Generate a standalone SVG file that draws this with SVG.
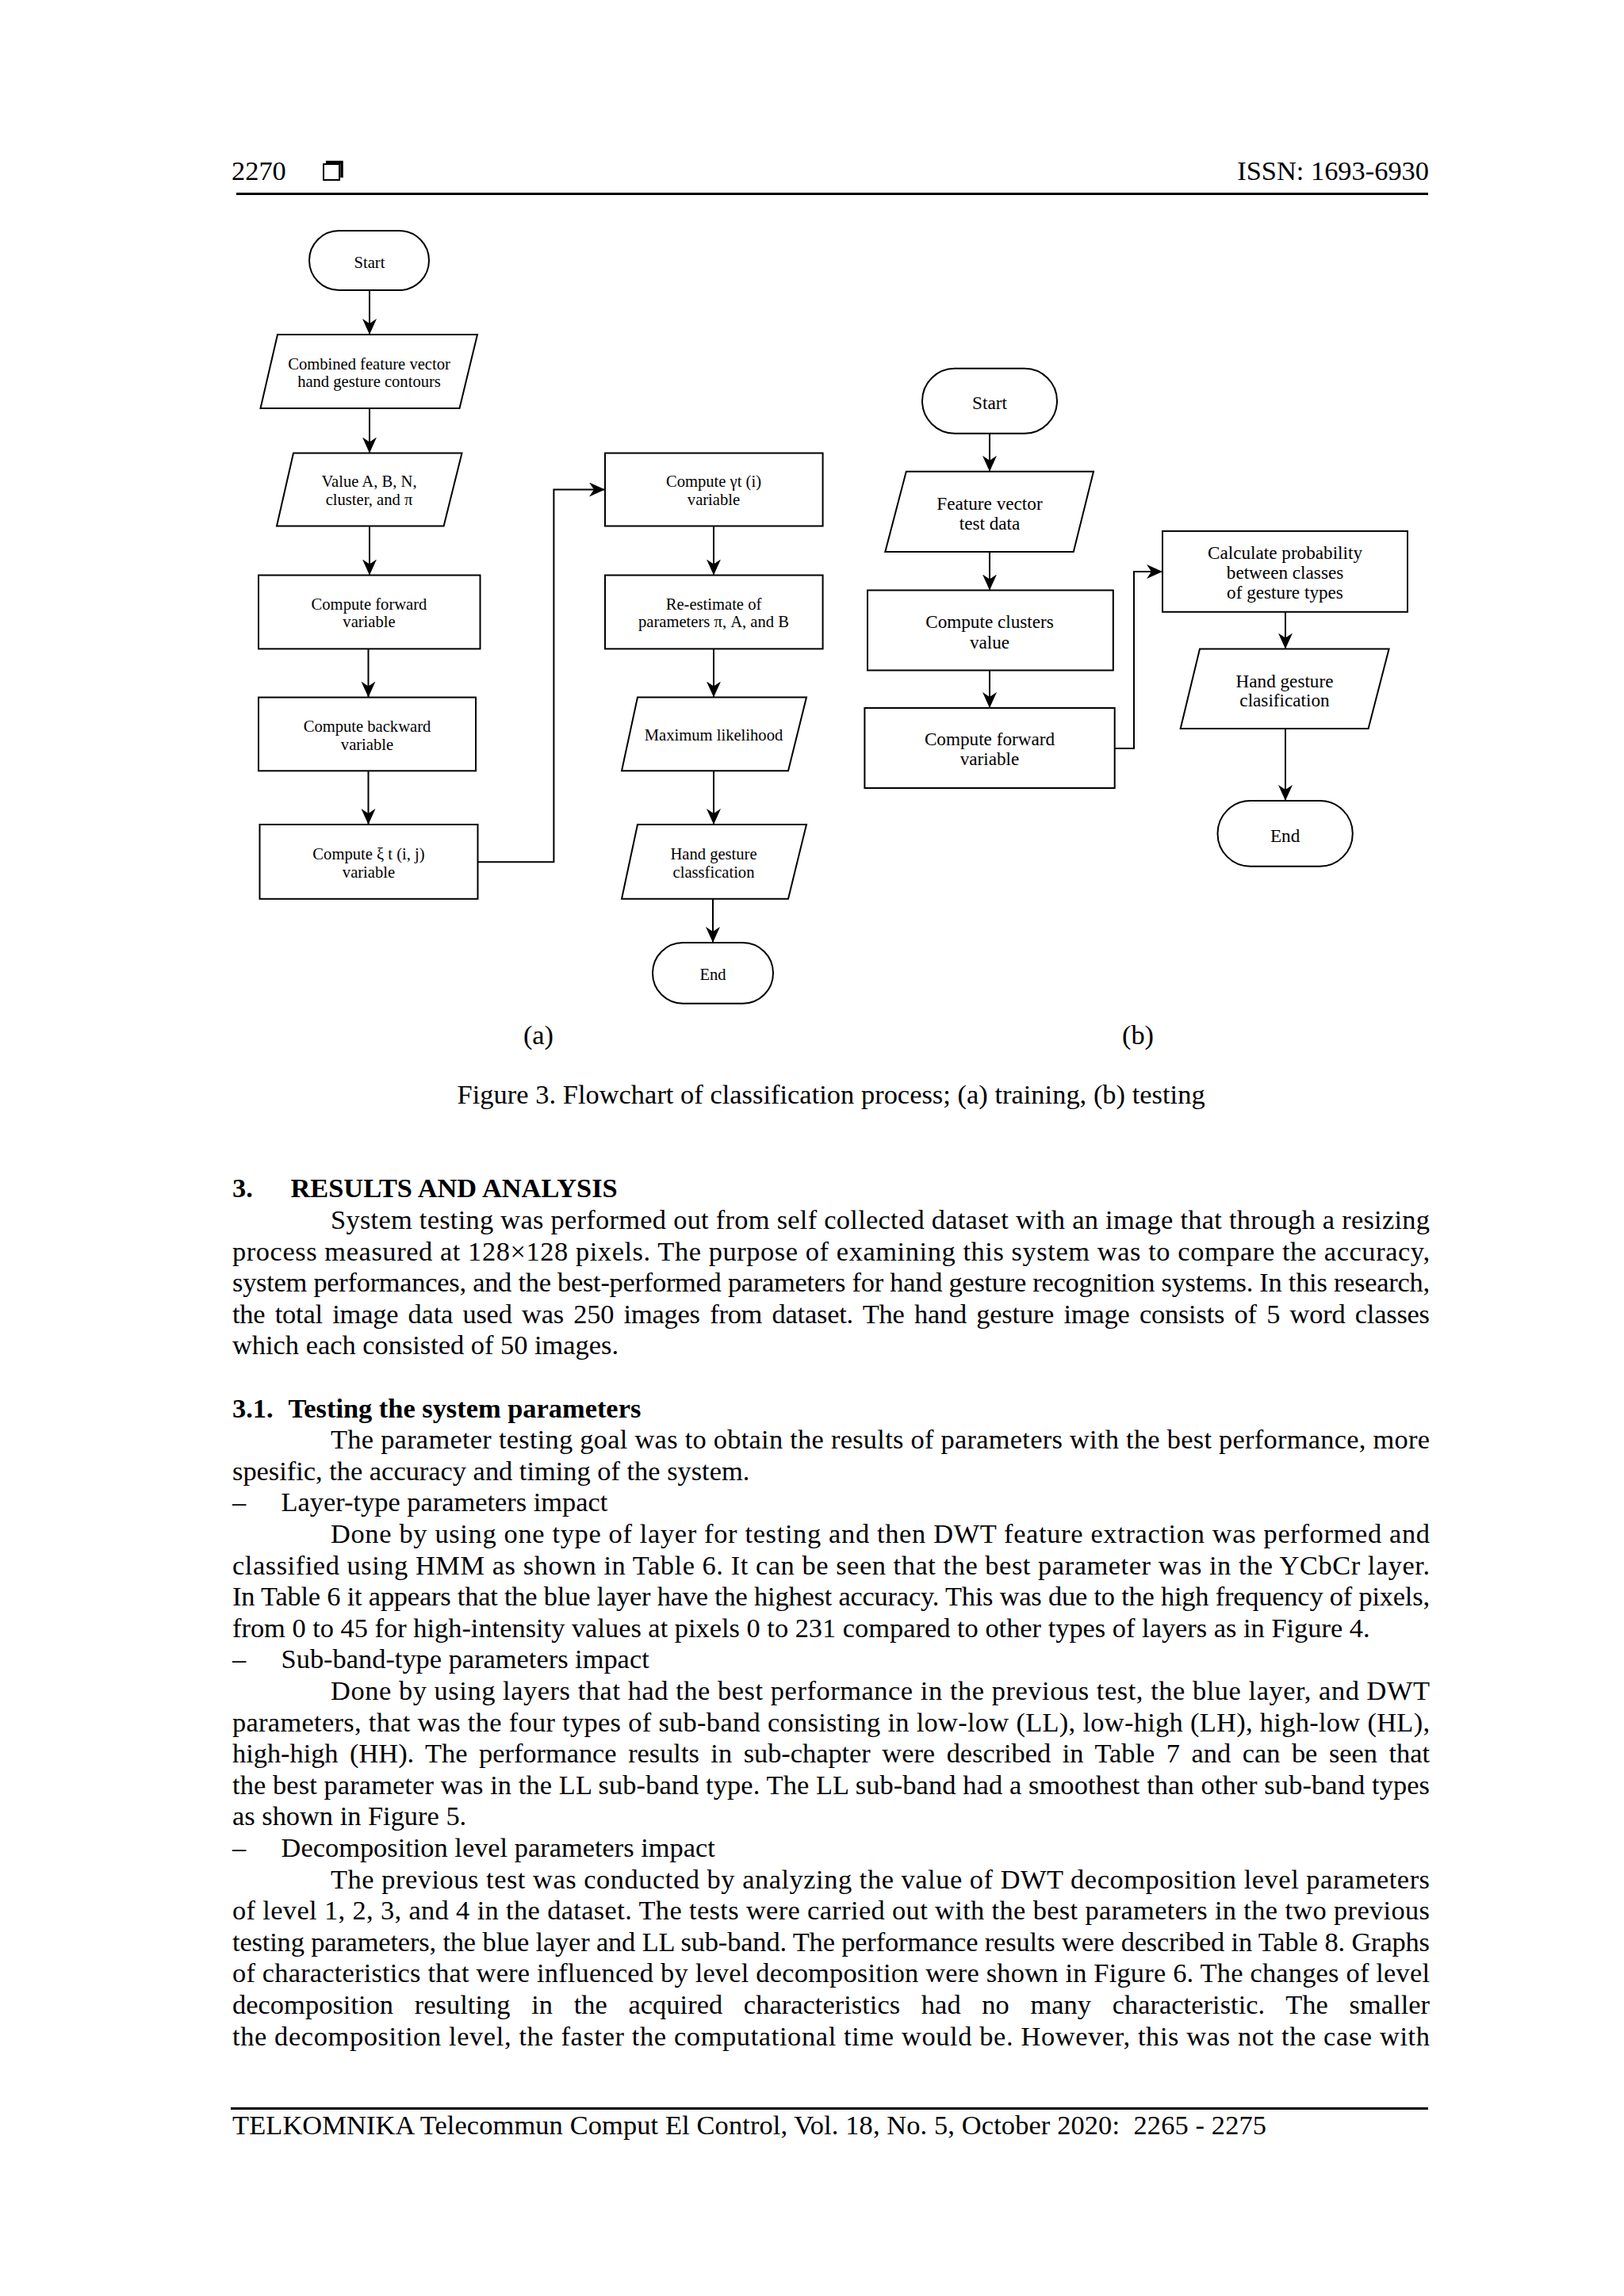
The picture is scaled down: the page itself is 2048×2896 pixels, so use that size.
<svg xmlns="http://www.w3.org/2000/svg" width="2048" height="2896" viewBox="0 0 2048 2896">
<style>
.t{font-family:"Liberation Serif","Times New Roman",serif;fill:#000}
.fa{font-size:20.6px;text-anchor:middle}
.fb{font-size:23.2px;text-anchor:middle}
.p{font-size:34.4px}
.b{font-weight:bold}
.m{text-anchor:middle}
.shape{fill:#fff;stroke:#000;stroke-width:2}
.conn{fill:none;stroke:#000;stroke-width:2;marker-end:url(#arr)}
.rule{stroke:#000;stroke-width:3}
</style>
<defs>
<marker id="arr" markerUnits="userSpaceOnUse" markerWidth="22" markerHeight="20" refX="20" refY="9" orient="auto">
<path d="M0,0 L20,9 L0,18 L6,9 Z" fill="#000"/>
</marker>
</defs>
<rect width="2048" height="2896" fill="#fff"/>

<g id="header">
<text class="t p" x="292" y="227">2270</text>
<rect x="408" y="207" width="20" height="20" fill="#fff" stroke="#000" stroke-width="2"/>
<path d="M411,204.5 L431,204.5 L431,224" fill="none" stroke="#000" stroke-width="3.5"/>
<text class="t p" x="1802" y="227" text-anchor="end">ISSN: 1693-6930</text>
<line class="rule" x1="298" y1="244.5" x2="1801" y2="244.5"/>
</g>

<g id="connectors">
<path class="conn" d="M466,366 L466,422"/>
<path class="conn" d="M466,515 L466,571.5"/>
<path class="conn" d="M466,663.5 L466,725.5"/>
<path class="conn" d="M464.5,818.4 L464.5,879.6"/>
<path class="conn" d="M464.5,972.3 L464.5,1040"/>
<path class="conn" d="M602.5,1087.3 L698.4,1087.3 L698.4,617.5 L763,617.5"/>
<path class="conn" d="M900,663.5 L900,725.5"/>
<path class="conn" d="M900,818.4 L900,879.6"/>
<path class="conn" d="M900,972.3 L900,1040"/>
<path class="conn" d="M899,1133.8 L899,1189"/>
<path class="conn" d="M1248,546.7 L1248,594.8"/>
<path class="conn" d="M1248,695.9 L1248,744.5"/>
<path class="conn" d="M1248,845.5 L1248,893"/>
<path class="conn" d="M1405.7,944 L1430,944 L1430,721 L1466,721"/>
<path class="conn" d="M1621,771.8 L1621,818.6"/>
<path class="conn" d="M1621,919 L1621,1010"/>
</g>

<g id="a-start">
<rect class="shape" x="390" y="291" width="151" height="75" rx="37.5"/>
<text class="t fa" x="466" y="338">Start</text>
</g>
<g id="a-input">
<polygon class="shape" points="350,422 602,422 579.5,515 328.5,515"/>
<text class="t fa" x="465.5" y="466">Combined feature vector</text>
<text class="t fa" x="465.5" y="488">hand gesture contours</text>
</g>
<g id="a-values">
<polygon class="shape" points="370,571.5 582.5,571.5 559.6,663.5 349,663.5"/>
<text class="t fa" x="465.5" y="614">Value A, B, N,</text>
<text class="t fa" x="465.5" y="637">cluster, and π</text>
</g>
<g id="a-forward">
<rect class="shape" x="326" y="725.5" width="279.5" height="92.9"/>
<text class="t fa" x="465.5" y="769">Compute forward</text>
<text class="t fa" x="465.5" y="791">variable</text>
</g>
<g id="a-backward">
<rect class="shape" x="326" y="879.6" width="274" height="92.7"/>
<text class="t fa" x="463" y="923">Compute backward</text>
<text class="t fa" x="463" y="945.5">variable</text>
</g>
<g id="a-xi">
<rect class="shape" x="327.5" y="1040" width="275" height="93.8"/>
<text class="t fa" x="465" y="1084">Compute ξ t (i, j)</text>
<text class="t fa" x="465" y="1106.5">variable</text>
</g>
<g id="a-gamma">
<rect class="shape" x="763" y="571.5" width="274.6" height="92"/>
<text class="t fa" x="900" y="614">Compute γt (i)</text>
<text class="t fa" x="900" y="637">variable</text>
</g>
<g id="a-reestimate">
<rect class="shape" x="763" y="725.5" width="274.6" height="92.9"/>
<text class="t fa" x="900" y="769">Re-estimate of</text>
<text class="t fa" x="900" y="791">parameters π, A, and B</text>
</g>
<g id="a-maxlik">
<polygon class="shape" points="804,879.6 1017,879.6 994,972.3 784,972.3"/>
<text class="t fa" x="900" y="934">Maximum likelihood</text>
</g>
<g id="a-classify">
<polygon class="shape" points="804,1040 1017,1040 994,1133.8 784,1133.8"/>
<text class="t fa" x="900" y="1084">Hand gesture</text>
<text class="t fa" x="900" y="1106.5">classfication</text>
</g>
<g id="a-end">
<rect class="shape" x="823" y="1189" width="152" height="76.7" rx="38.3"/>
<text class="t fa" x="899" y="1235.5">End</text>
</g>

<g id="b-start">
<rect class="shape" x="1163" y="464.7" width="170" height="82" rx="41"/>
<text class="t fb" x="1248" y="516">Start</text>
</g>
<g id="b-input">
<polygon class="shape" points="1142.8,594.8 1379,594.8 1353.8,695.9 1116.3,695.9"/>
<text class="t fb" x="1248" y="643">Feature vector</text>
<text class="t fb" x="1248" y="668">test data</text>
</g>
<g id="b-clusters">
<rect class="shape" x="1094" y="744.5" width="309.8" height="101"/>
<text class="t fb" x="1248" y="791.5">Compute clusters</text>
<text class="t fb" x="1248" y="817.5">value</text>
</g>
<g id="b-forward">
<rect class="shape" x="1090.4" y="893" width="315.3" height="101"/>
<text class="t fb" x="1248" y="940">Compute forward</text>
<text class="t fb" x="1248" y="965.4">variable</text>
</g>
<g id="b-prob">
<rect class="shape" x="1466" y="669.9" width="309" height="101.9"/>
<text class="t fb" x="1620.5" y="704.7">Calculate probability</text>
<text class="t fb" x="1620.5" y="730">between classes</text>
<text class="t fb" x="1620.5" y="754.6">of gesture types</text>
</g>
<g id="b-classify">
<polygon class="shape" points="1513,818.6 1751.6,818.6 1725.6,919 1488.7,919"/>
<text class="t fb" x="1620" y="866.5">Hand gesture</text>
<text class="t fb" x="1620" y="891">clasification</text>
</g>
<g id="b-end">
<rect class="shape" x="1535.5" y="1010" width="170.3" height="82.7" rx="41.3"/>
<text class="t fb" x="1620.6" y="1061.7">End</text>
</g>

<g id="captions">
<text class="t p m" x="679" y="1316.7">(a)</text>
<text class="t p m" x="1435" y="1316.7">(b)</text>
<text class="t p" x="576.6" y="1391.7" textLength="943" lengthAdjust="spacing">Figure 3. Flowchart of classification process; (a) training, (b) testing</text>
</g>

<g id="body" class="t p">
<text class="b" x="293" y="1510.4">3.</text>
<text class="b" x="366.4" y="1510.4">RESULTS AND ANALYSIS</text>
<text x="417" y="1550" textLength="1386" lengthAdjust="spacing">System testing was performed out from self collected dataset with an image that through a resizing</text>
<text x="293" y="1589.6" textLength="1510" lengthAdjust="spacing">process measured at 128×128 pixels. The purpose of examining this system was to compare the accuracy,</text>
<text x="293" y="1629.2" textLength="1510" lengthAdjust="spacing">system performances, and the best-performed parameters for hand gesture recognition systems. In this research,</text>
<text x="293" y="1668.8" textLength="1510" lengthAdjust="spacing" word-spacing="4">the total image data used was 250 images from dataset. The hand gesture image consists of 5 word classes</text>
<text x="293" y="1708.4">which each consisted of 50 images.</text>
<text class="b" x="293" y="1787.6">3.1.</text>
<text class="b" x="363.5" y="1787.6">Testing the system parameters</text>
<text x="417" y="1827.2" textLength="1386" lengthAdjust="spacing">The parameter testing goal was to obtain the results of parameters with the best performance, more</text>
<text x="293" y="1866.8">spesific, the accuracy and timing of the system.</text>
<text x="293" y="1906.4">–</text>
<text x="354.6" y="1906.4">Layer-type parameters impact</text>
<text x="417" y="1946" textLength="1386" lengthAdjust="spacing">Done by using one type of layer for testing and then DWT feature extraction was performed and</text>
<text x="293" y="1985.6" textLength="1510" lengthAdjust="spacing">classified using HMM as shown in Table 6. It can be seen that the best parameter was in the YCbCr layer.</text>
<text x="293" y="2025.2" textLength="1510" lengthAdjust="spacing">In Table 6 it appears that the blue layer have the highest accuracy. This was due to the high frequency of pixels,</text>
<text x="293" y="2064.8">from 0 to 45 for high-intensity values at pixels 0 to 231 compared to other types of layers as in Figure 4.</text>
<text x="293" y="2104.4">–</text>
<text x="354.6" y="2104.4">Sub-band-type parameters impact</text>
<text x="417" y="2144" textLength="1386" lengthAdjust="spacing">Done by using layers that had the best performance in the previous test, the blue layer, and DWT</text>
<text x="293" y="2183.6" textLength="1510" lengthAdjust="spacing">parameters, that was the four types of sub-band consisting in low-low (LL), low-high (LH), high-low (HL),</text>
<text x="293" y="2223.2" textLength="1510" lengthAdjust="spacing" word-spacing="6">high-high (HH). The performance results in sub-chapter were described in Table 7 and can be seen that</text>
<text x="293" y="2262.8" textLength="1510" lengthAdjust="spacing">the best parameter was in the LL sub-band type. The LL sub-band had a smoothest than other sub-band types</text>
<text x="293" y="2302.4">as shown in Figure 5.</text>
<text x="293" y="2342">–</text>
<text x="354.6" y="2342">Decomposition level parameters impact</text>
<text x="417" y="2381.6" textLength="1386" lengthAdjust="spacing">The previous test was conducted by analyzing the value of DWT decomposition level parameters</text>
<text x="293" y="2421.2" textLength="1510" lengthAdjust="spacing">of level 1, 2, 3, and 4 in the dataset. The tests were carried out with the best parameters in the two previous</text>
<text x="293" y="2460.8" textLength="1510" lengthAdjust="spacing">testing parameters, the blue layer and LL sub-band. The performance results were described in Table 8. Graphs</text>
<text x="293" y="2500.4" textLength="1510" lengthAdjust="spacing">of characteristics that were influenced by level decomposition were shown in Figure 6. The changes of level</text>
<text x="293" y="2540" textLength="1510" lengthAdjust="spacing" word-spacing="18">decomposition resulting in the acquired characteristics had no many characteristic. The smaller</text>
<text x="293" y="2579.6" textLength="1510" lengthAdjust="spacing">the decomposition level, the faster the computational time would be. However, this was not the case with</text>
</g>

<g id="footer">
<line class="rule" x1="291" y1="2659.5" x2="1801" y2="2659.5"/>
<text class="t p" x="293" y="2692" xml:space="preserve" textLength="1304" lengthAdjust="spacing">TELKOMNIKA Telecommun Comput El Control, Vol. 18, No. 5, October 2020:  2265 - 2275</text>
</g>
</svg>
